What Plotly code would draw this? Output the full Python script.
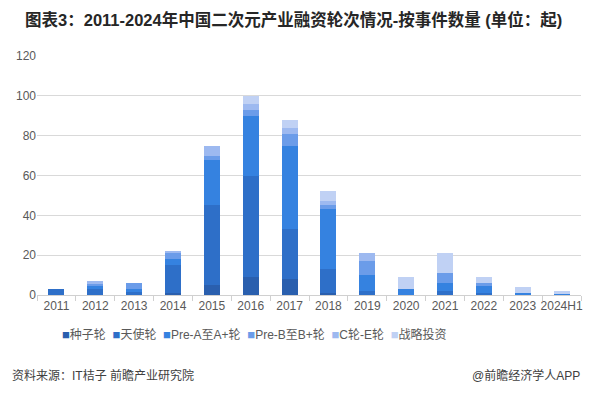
import plotly.graph_objects as go

years = ["2011", "2012", "2013", "2014", "2015", "2016", "2017", "2018", "2019", "2020", "2021", "2022", "2023", "2024H1"]
series_names = ["种子轮", "天使轮", "Pre-A至A+轮", "Pre-B至B+轮", "C轮-E轮", "战略投资"]
seed = [0, 0, 0, 1, 5, 9, 8, 1, 0, 0, 0, 0, 0, 0]
angel = [3, 3, 2, 14, 40, 51, 25, 12, 2, 0, 2, 1, 0, 0]
pre_a = [0, 2, 1, 3, 23, 30, 42, 30, 8, 3, 4, 4, 1, 1]
pre_b = [0, 1, 3, 3, 2, 3, 6, 2, 7, 0, 5, 1, 0, 0]
c_e = [0, 1, 0, 1, 5, 3, 3, 2, 4, 0, 0, 0, 0, 0]
strategic = [0, 0, 0, 0, 0, 4, 4, 5, 0, 6, 10, 3, 3, 1]
colors = ["#2a5fae", "#2e6fc8", "#3582e0", "#6b9ce9", "#9db9f0", "#c0d1f4"]
y_ticks = [0, 20, 40, 60, 80, 100, 120]

FONT = "Liberation Sans, Noto Sans CJK SC, sans-serif"

fig = go.Figure()
for name, vals, col in zip(series_names, [seed, angel, pre_a, pre_b, c_e, strategic], colors):
    fig.add_trace(go.Bar(x=years, y=vals, name=name, marker=dict(color=col, line=dict(width=0))))

fig.update_layout(
    barmode="stack",
    bargap=0.59,
    width=583, height=388,
    margin=dict(l=27, r=8, t=48, b=101),
    paper_bgcolor="white", plot_bgcolor="white",
    font=dict(family=FONT, color="#595959", size=12),
    title=dict(text="<b>图表3：2011-2024年中国二次元产业融资轮次情况-按事件数量 (单位：起)</b>",
               x=0.49, xanchor="center", y=0.969, yanchor="middle",
               font=dict(size=16.5, color="#262626", family=FONT)),
    showlegend=False,
)
fig.update_xaxes(type="category", showline=True, linecolor="#d0d0d0", linewidth=1,
                 ticks="outside", tickson="boundaries", ticklen=5, tickcolor="#d0d0d0",
                 tickangle=0, tickfont=dict(size=12, color="#595959"), showgrid=False)
fig.update_yaxes(range=[0, 120], tickvals=y_ticks, showgrid=True, gridcolor="#d9d9d9", gridwidth=1,
                 zeroline=False, tickfont=dict(size=12, color="#595959"), ticks="")

legend_text = "&nbsp;&nbsp;".join(
    f'<span style="color:{c};font-size:13px">■</span>{n}' for n, c in zip(series_names, colors)
)
fig.add_annotation(text=legend_text, xref="paper", yref="paper",
                   x=0.40, y=-0.167, xanchor="center", yanchor="middle", showarrow=False,
                   font=dict(size=12, color="#595959"))

fig.add_annotation(text="资料来源：IT桔子 前瞻产业研究院", xref="paper", yref="paper",
                   x=-0.049, y=-0.335, xanchor="left", yanchor="middle", showarrow=False,
                   font=dict(size=12, color="#404040"))
fig.add_annotation(text="@前瞻经济学人APP", xref="paper", yref="paper",
                   x=1.002, y=-0.335, xanchor="right", yanchor="middle", showarrow=False,
                   font=dict(size=12, color="#404040"))

fig.write_html("out.html")
